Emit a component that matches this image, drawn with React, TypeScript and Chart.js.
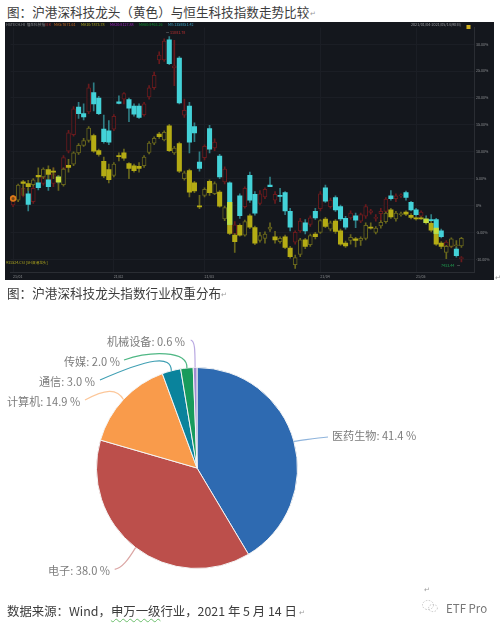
import React, { useEffect, useRef } from "react";
import { Chart, registerables } from "chart.js";

Chart.register(...registerables);

// Candles, in % against the start of the period
const hsOpen = [0.1,1.3,1.9,2.2,0.7,4.2,4.1,4.8,4.1,5.3, 6.8,10.1,13.2,18.3,17.1,17.4,21.0,20.0,14.2,13.9, 14.2,19.3,19.8,19.7,18.5,18.5,16.9,20.2,21.9,27.1, 27.1,30.8,25.6,27.4,16.8,18.5,14.7,8.1,8.9,14.3, 10.7,9.2,4.4,4.2,-5.3,1.8,-0.2,5.6,2.1,0.4, 1.6,3.8,1.0,1.8,2.4,-1.1,-6.8,-4.7,-3.2,-3.5, -1.1,-0.6,3.3,-0.2,1.5,-0.2,-2.4,-2.3,-1.9,-2.9, -2.0,-1.3,-2.4,-1.5,-1.1,1.8,1.3,1.8,2.4,0.6, -0.8,-2.0,-2.5,-2.6,-2.6,-4.7,-7.7,-7.6,-8.1,-9.8];
const hsClose = [1.3,2.4,3.2,0.2,3.2,3.3,5.3,3.5,5.9,4.4, 8.9,13.5,18.0,17.1,16.5,21.9,18.9,17.1,11.9,11.8, 16.6,19.0,20.8,18.1,17.0,16.4,18.9,21.9,24.2,28.0, 30.6,26.4,26.0,19.1,17.7,11.8,13.5,6.9,11.0,10.5, 11.8,5.3,6.8,-3.5,-3.6,-1.9,3.2,1.0,-1.4,2.2, 3.0,3.5,2.1,1.7,-1.0,-4.0,-5.0,-2.9,-4.7,-2.3, -2.3,2.2,0.8,1.0,-0.8,-2.5,-4.0,-1.4,-2.7,-1.7, -0.2,-1.0,-2.2,-1.1,1.2,1.3,1.8,1.9,1.5,-0.8, -1.7,-1.2,-3.2,-2.8,-5.2,-5.8,-6.8,-7.0,-9.3,-9.7];
const hsHigh = [1.9,2.8,3.6,3.2,3.6,5.0,5.7,5.6,7.0,5.6, 9.3,14.0,18.4,19.2,18.9,22.6,22.8,20.3,16.8,15.8, 16.9,20.4,21.0,20.0,18.9,18.9,19.2,22.3,24.8,28.6, 31.0,31.4,30.7,27.7,19.8,19.2,15.4,10.0,11.3,14.9, 12.4,9.5,7.2,4.4,-3.0,2.2,3.5,6.2,2.6,2.8, 3.3,5.3,2.6,3.2,2.6,-0.5,-4.7,-2.4,-2.6,-1.9, -0.5,2.6,3.8,1.4,1.8,0.1,-2.0,-1.0,-1.4,-1.4, 0.2,-0.7,-1.7,-0.5,1.5,2.8,2.2,2.2,2.7,0.8, -0.5,-1.0,-1.9,-1.7,-2.4,-4.4,-6.5,-6.8,-7.8,-9.5];
const hsLow = [-0.2,1.0,1.6,-1.0,0.4,2.9,3.8,2.8,3.5,4.0, 6.4,9.8,12.9,16.2,15.9,17.1,17.6,16.9,11.6,11.3, 13.9,18.9,18.9,15.6,16.6,16.2,16.6,19.8,21.6,26.4, 26.8,26.2,22.3,18.9,16.4,9.8,11.9,6.4,8.5,9.8, 10.2,5.0,4.0,-3.9,-5.6,-2.4,-0.5,0.6,-1.8,0.1, 1.3,3.5,0.4,0.7,-1.7,-4.7,-7.2,-5.0,-5.3,-3.9, -2.6,-1.0,0.6,-0.5,-1.1,-2.8,-4.4,-2.6,-4.1,-3.2, -2.4,-1.6,-2.9,-3.2,-1.4,1.0,0.7,1.5,1.0,-1.0, -2.0,-2.3,-3.4,-3.0,-5.5,-6.0,-8.0,-7.9,-9.6,-10.5];

const ycOpen = [1.0,1.0,4.4,4.1,3.9,5.6,5.3,6.7,6.3,5.3, 3.9,7.5,7.7,9.8,11.2,12.1,13.0,10.2,8.2,6.7, 5.6,9.2,9.8,7.8,7.4,7.3,7.4,9.9,11.6,13.3, 12.2,14.8,9.8,11.5,5.0,6.5,4.2,-0.05,1.9,4.5, 2.2,2.5,-2.5,0.6,-5.5,-3.7,-5.5,-1.9,-4.1,-6.5, -6.1,-4.4,-5.8,-6.7,-5.8,-7.9,-11.0,-9.1,-6.4,-7.3, -5.3,-5.0,-2.5,-4.4,-2.9,-4.7,-7.0,-6.5,-6.2,-6.5, -6.1,-4.0,-5.0,-3.8,-3.0,-0.8,-2.5,-1.7,-1.2,-1.8, -2.3,-2.3,-2.5,-3.3,-4.2,-7.0,-8.7,-7.6,-7.4,-7.5];
const ycClose = [1.6,3.8,4.1,3.5,4.8,5.3,6.8,5.8,6.2,4.4, 6.8,7.1,9.8,11.2,12.1,14.4,10.1,9.5,5.5,4.8, 7.7,9.1,8.8,6.9,6.5,6.9,9.0,11.6,12.5,12.8, 13.6,10.2,10.7,6.4,6.1,2.5,2.7,-0.15,3.0,2.4, 4.1,-0.1,-0.4,-5.2,-6.7,-5.5,-3.0,-4.0,-7.0,-5.6, -5.3,-4.0,-6.4,-6.1,-7.8,-9.5,-9.7,-6.4,-7.6,-5.6, -5.8,-2.8,-3.9,-3.2,-4.8,-7.2,-7.5,-5.9,-6.5,-6.1, -3.7,-4.1,-4.2,-3.1,-1.4,-2.1,-1.4,-1.5,-1.6,-2.2, -2.5,-2.4,-3.2,-4.6,-7.2,-7.6,-7.6,-6.2,-7.3,-6.1];
const ycHigh = [1.9,4.0,4.7,4.7,5.0,7.0,7.0,7.4,7.0,5.6, 7.0,8.6,10.0,11.5,12.5,14.7,13.3,10.5,9.0,7.7, 8.0,9.8,10.5,8.0,7.7,8.0,9.3,11.9,12.8,13.6, 13.9,15.1,11.0,11.8,6.4,6.8,4.5,1.9,3.3,4.8, 4.4,2.8,0.0,0.9,-5.2,-3.4,-2.7,-1.6,-3.8,-5.0, -4.9,-3.2,-4.8,-5.8,-5.5,-7.6,-9.2,-6.1,-6.1,-5.3, -5.0,-2.6,-2.2,-2.9,-2.6,-4.4,-6.6,-5.4,-5.9,-5.8, -3.2,-3.2,-3.9,-2.8,-1.2,-0.5,-1.1,-1.2,-1.0,-1.5, -2.1,-2.1,-2.3,-3.0,-3.9,-6.7,-7.4,-6.0,-6.5,-5.9];
const ycLow = [0.8,0.7,1.9,2.8,3.6,3.8,5.0,4.7,5.0,2.8, 3.6,6.2,7.4,9.5,11.0,11.8,9.9,9.2,5.2,4.2, 5.3,8.3,8.4,5.0,6.2,6.2,7.1,9.6,11.3,12.5, 12.0,10.0,9.5,6.1,4.7,1.6,2.4,-0.6,1.6,1.9, 2.0,-0.3,-2.8,-5.4,-8.7,-5.7,-5.7,-4.3,-7.3,-6.8, -7.0,-4.8,-7.0,-7.0,-8.0,-9.8,-11.7,-9.5,-8.0,-7.6, -6.2,-5.2,-4.1,-4.7,-5.2,-7.4,-7.8,-7.2,-7.7,-7.4, -6.4,-4.4,-5.3,-4.2,-3.3,-2.4,-2.9,-2.0,-1.9,-2.5, -2.7,-2.6,-3.4,-4.9,-7.4,-8.0,-9.9,-7.8,-8.4,-7.8];

// x axis
const monthIndex = [0, 20, 38, 61, 80];
const monthLabels = ["21/01", "21/02", "21/03", "21/04", "21/05"];
const emptySlots = 2;
const yTicks = [-10, -5, 0, 5, 10, 15, 20, 25, 30];
const startMarkerValue = 1.3;

// Pie
const industries = ["医药生物", "电子", "计算机", "通信", "传媒", "机械设备"];
const weights = [41.4, 38.0, 14.9, 3.0, 2.0, 0.6];
const sliceColors = ["#2e6ab1", "#bc4f4b", "#f99b4b", "#0a839c", "#189b5c", "#a08ad2"];
const lineColors = ["#8fb4dc", "#dba6a4", "#fcc79a", "#3f9fb3", "#4fb784", "#b9a9e2"];

const PANEL = "#14171d";
const TEAL = "#43d2d8";
const TEAL_WICK = "#2f7d84";
const RED = "#6a1a1d";
const YELLOW = "#b5ac14";
const OLIVE = "#68661c";
const LIME = "#c6dc3a";
const AXIS_TEXT = "#8b8d90";
const GRID = "#1b1e25";
const FONT = '"Noto Sans CJK SC", "Noto Sans", sans-serif';

const isUp = (o: number, c: number) => c > o;

function bodies(open: number[], close: number[], wantUp: boolean) {
  return open.map((o, i) => (isUp(o, close[i]) === wantUp ? [o, close[i]] : null));
}
function wicks(open: number[], close: number[], high: number[], low: number[], wantUp: boolean) {
  return open.map((o, i) => (isUp(o, close[i]) === wantUp ? [low[i], high[i]] : null));
}
function overlaps() {
  return hsOpen.map((o, i) => {
    if (isUp(o, hsClose[i]) || isUp(ycOpen[i], ycClose[i])) return null;
    const top = Math.min(o, ycOpen[i]);
    const bottom = Math.max(hsClose[i], ycClose[i]);
    return top > bottom ? [bottom, top] : null;
  });
}

function CandleChart() {
  const ref = useRef<HTMLCanvasElement>(null);
  useEffect(() => {
    const labels = [...hsOpen.map((_, i) => String(i)), ...Array(emptySlots).fill("")];
    const wick = (data: any, color: string, order: number) => ({
      data, backgroundColor: color, barThickness: 1, grouped: false, order, minBarLength: 1,
    });
    const body = (data: any, fill: string, border: string | undefined, order: number) => ({
      data, backgroundColor: fill, borderColor: border, borderWidth: border ? 1 : 0,
      borderSkipped: false, barThickness: border ? 4 : 4.4, grouped: false, order, minBarLength: 1,
    });
    const chart = new Chart(ref.current!, {
      type: "bar",
      data: {
        labels,
        datasets: [
          wick(wicks(hsOpen, hsClose, hsHigh, hsLow, true), RED, 9),
          body(bodies(hsOpen, hsClose, true), PANEL, RED, 8),
          wick(wicks(ycOpen, ycClose, ycHigh, ycLow, true), OLIVE, 7),
          body(bodies(ycOpen, ycClose, true), PANEL, OLIVE, 6),
          wick(wicks(hsOpen, hsClose, hsHigh, hsLow, false), TEAL_WICK, 5),
          wick(wicks(ycOpen, ycClose, ycHigh, ycLow, false), OLIVE, 4),
          body(bodies(ycOpen, ycClose, false), YELLOW, undefined, 3),
          body(bodies(hsOpen, hsClose, false), TEAL, undefined, 2),
          body(overlaps(), LIME, undefined, 1),
          {
            type: "line",
            data: [startMarkerValue],
            showLine: false,
            pointRadius: 2.4,
            pointBorderWidth: 1.6,
            pointBorderColor: "#e0791a",
            pointBackgroundColor: "#7a4a18",
            order: 0,
          },
        ] as any,
      },
      options: {
        responsive: false,
        animation: false,
        layout: { padding: 0 },
        plugins: { legend: { display: false }, tooltip: { enabled: false } },
        scales: {
          x: {
            offset: true,
            afterBuildTicks: (s: any) => {
              s.ticks = monthIndex.map((value) => ({ value }));
            },
            afterFit: (s: any) => {
              s.height = 8;
            },
            grid: { color: GRID, offset: false, drawTicks: false },
            border: { color: "#2a2d33" },
            ticks: {
              autoSkip: false,
              maxRotation: 0,
              align: "start",
              padding: 2,
              color: AXIS_TEXT,
              font: { size: 3.6, family: FONT },
              callback: (v: any) => monthLabels[monthIndex.indexOf(Number(v))],
            },
          },
          y: {
            position: "right",
            min: -12.36,
            max: 33.09,
            afterBuildTicks: (s: any) => {
              s.ticks = yTicks.map((value) => ({ value }));
            },
            afterFit: (s: any) => {
              s.width = 20;
            },
            grid: { color: GRID, drawTicks: false },
            border: { color: "#2a2d33" },
            ticks: {
              padding: 2,
              color: AXIS_TEXT,
              font: { size: 3.6, family: FONT },
              callback: (v: any) => (v === 0 ? "0%" : `${Number(v).toFixed(2)}%`),
            },
          },
        },
      } as any,
    });
    return () => chart.destroy();
  }, []);
  return (
    <canvas
      ref={ref}
      width={489}
      height={258}
      style={{ position: "absolute", left: 5, top: 22, width: 489, height: 258, background: PANEL }}
    />
  );
}

// Where each slice's callout goes, in canvas pixels: two bezier controls, line end, label left, label middle
const callouts = [
  { c1: [305, 140], c2: [315, 138], end: [328, 137], tx: 332, ty: 136 },
  { c1: [128, 260], c2: [122, 268], end: [114.7, 269.3], tx: 48, ty: 271 },
  { c1: [117, 88], c2: [105, 89], end: [85, 100], tx: 7, ty: 102 },
  { c1: [171, 55], c2: [150, 58], end: [100, 80], tx: 39, ty: 82 },
  { c1: [188, 50], c2: [150, 51], end: [124, 60], tx: 64, ty: 62 },
  { c1: [195, 50], c2: [195, 41], end: [190.7, 40], tx: 107, ty: 42 },
];

function PieChart() {
  const ref = useRef<HTMLCanvasElement>(null);
  useEffect(() => {
    const calloutPlugin = {
      id: "callouts",
      afterDraw(chart: any) {
        const ctx = chart.ctx;
        const arcs = chart.getDatasetMeta(0).data;
        ctx.save();
        arcs.forEach((arc: any, i: number) => {
          const mid = (arc.startAngle + arc.endAngle) / 2;
          const sx = arc.x + Math.cos(mid) * arc.outerRadius;
          const sy = arc.y + Math.sin(mid) * arc.outerRadius;
          const c = callouts[i];
          ctx.beginPath();
          ctx.moveTo(sx, sy);
          ctx.bezierCurveTo(c.c1[0], c.c1[1], c.c2[0], c.c2[1], c.end[0], c.end[1]);
          ctx.strokeStyle = lineColors[i];
          ctx.lineWidth = 1.2;
          ctx.stroke();
          ctx.font = `11.1px ${FONT}`;
          ctx.fillStyle = "#7c7c7c";
          ctx.textAlign = "left";
          ctx.textBaseline = "middle";
          ctx.fillText(`${industries[i]}: ${weights[i].toFixed(1)} %`, c.tx, c.ty);
        });
        ctx.restore();
      },
    };
    const chart = new Chart(ref.current!, {
      type: "pie",
      data: {
        labels: industries,
        datasets: [
          {
            data: weights,
            backgroundColor: sliceColors,
            borderColor: "#f4f4f4",
            borderWidth: 1,
          },
        ],
      },
      options: {
        responsive: false,
        animation: false,
        layout: { padding: { left: 96, right: 206, top: 67, bottom: 31 } },
        plugins: { legend: { display: false }, tooltip: { enabled: false } },
      },
      plugins: [calloutPlugin],
    } as any);
    return () => chart.destroy();
  }, []);
  return (
    <canvas
      ref={ref}
      width={504}
      height={300}
      style={{ position: "absolute", left: 0, top: 300, width: 504, height: 300 }}
    />
  );
}

function Note(p: { x: number; y: number; color: string; size?: number; children: React.ReactNode }) {
  return (
    <span
      style={{
        position: "absolute",
        left: p.x,
        top: p.y,
        transform: "translateY(-50%)",
        color: p.color,
        fontSize: p.size ?? 3.7,
        lineHeight: 1,
        whiteSpace: "nowrap",
        fontFamily: FONT,
      }}
    >
      {p.children}
    </span>
  );
}

const Ret = (p: { x: number; y: number }) => (
  <Note x={p.x} y={p.y} color="#9a9a9a" size={7}>
    ↵
  </Note>
);

export default function App() {
  return (
    <div
      style={{
        position: "absolute",
        left: 0,
        top: 0,
        width: 504,
        height: 628,
        background: "#fff",
        overflow: "hidden",
        filter: "blur(0.3px)",
      }}
    >
      <Note x={7} y={12} color="#3c3c3c" size={12.6}>
        图：沪港深科技龙头（黄色）与恒生科技指数走势比较
      </Note>
      <Ret x={310} y={13} />

      <CandleChart />
      <Note x={6} y={25} color="#8b8d90">HSTECH.HI</Note>
      <Note x={26.7} y={25} color="#8b8d90">恒生科技指</Note>
      <Note x={45} y={25} color="#b02a2a">日K</Note>
      <Note x={54} y={25} color="#c86a1e">MA5:7671.61</Note>
      <Note x={81} y={25} color="#b0a818">MA10:7873.78</Note>
      <Note x={110} y={25} color="#a020c0">MA20:8127.88</Note>
      <Note x={139} y={25} color="#0d8f2e">MA60:8463.26</Note>
      <Note x={168} y={25} color="#3aa0c0">MV:1358851.42</Note>
      <Note x={411} y={25} color="#9a9ca0">2021/01/04-2021/05/14(90日)</Note>
      <Note x={466} y={25} color="#d0b020" size={5}>■</Note>
      <Note x={170} y={33} color="#c03030">11081.78</Note>
      <Note x={166} y={32.5} color="#d8d8d8">—</Note>
      <Note x={6} y={263} color="#b0a81e">931524.CSI [SH深港龙头]</Note>
      <Note x={441} y={265.7} color="#1fa050">7433.44</Note>
      <Note x={457} y={265.7} color="#d8d8d8">—</Note>
      <Ret x={495} y={277} />

      <Note x={7} y={293} color="#3c3c3c" size={12.6}>
        图：沪港深科技龙头指数行业权重分布
      </Note>
      <Ret x={221} y={294} />

      <PieChart />

      <Ret x={424} y={589} />
      <Note x={7} y={611} color="#3c3c3c" size={12.4}>
        数据来源：Wind，
        <span style={{ textDecoration: "underline wavy #6cbf6c 1px", textUnderlineOffset: 2 }}>申万一级</span>
        行业，2021 年 5 月 14 日
      </Note>
      <Ret x={299} y={612} />

      <svg
        width={18}
        height={14}
        style={{ position: "absolute", left: 421, top: 599 }}
        viewBox="0 0 18 14"
      >
        <ellipse cx="7" cy="6" rx="5.5" ry="4.6" fill="none" stroke="#c4c4c4" strokeWidth="1" strokeDasharray="1.5 1.5" />
        <ellipse cx="12" cy="9" rx="4.4" ry="3.6" fill="none" stroke="#c4c4c4" strokeWidth="1" strokeDasharray="1.5 1.5" />
      </svg>
      <Note x={446} y={608.5} color="#777" size={11.5}>
        ETF Pro
      </Note>
    </div>
  );
}
